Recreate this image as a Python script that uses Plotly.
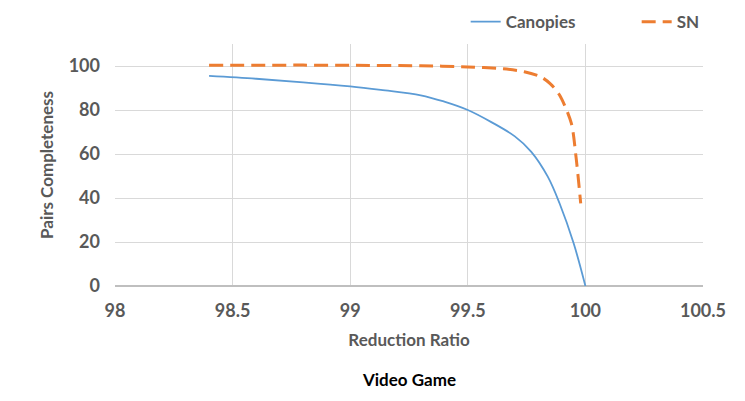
import plotly.graph_objects as go

# reduction ratio (%) vs pairs completeness (%)
canopies_rr = [98.4, 98.6, 98.8, 99.0, 99.13, 99.3, 99.4, 99.5, 99.6, 99.7, 99.77, 99.84, 99.89, 99.95, 100.0]
canopies_pc = [95.5, 94.2, 92.6, 90.7, 89.1, 86.7, 83.8, 80.0, 74.5, 68.0, 61.0, 49.7, 37.6, 19.4, 0.0]

sn_rr = [98.4, 98.8, 99.0, 99.3, 99.5, 99.65, 99.74, 99.81, 99.85, 99.89, 99.94, 99.96, 99.98]
sn_pc = [100.3, 100.4, 100.3, 100.1, 99.6, 98.7, 97.4, 95.1, 92.0, 86.8, 74.0, 58.8, 37.6]

x_ticks = [98, 98.5, 99, 99.5, 100, 100.5]
y_ticks = [0, 20, 40, 60, 80, 100]

font_family = "Lato, 'Open Sans', sans-serif"
grey = '#595959'

fig = go.Figure()
fig.add_trace(go.Scatter(x=canopies_rr, y=canopies_pc, mode='lines', name='Canopies',
                         line=dict(color='#5B9BD5', width=1.8, shape='spline', smoothing=1.0)))
fig.add_trace(go.Scatter(x=sn_rr, y=sn_pc, mode='lines', name='SN',
                         line=dict(color='#ED7D31', width=3, dash='14px,7px', shape='spline', smoothing=0.8)))

# page body has an 8px margin, so the figure is a bit smaller and shifted
fig.update_layout(
    width=737, height=393,
    margin=dict(l=107, r=42, t=36, b=115, autoexpand=False),
    paper_bgcolor='white', plot_bgcolor='white',
    font=dict(family=font_family, color=grey, size=17),
    legend=dict(orientation='h', x=0.621, y=0.964, xref='container', yref='container',
                xanchor='left', yanchor='middle',
                font=dict(size=17, color=grey, weight='bold'), itemwidth=30,
                entrywidth=126, tracegroupgap=0, bgcolor='rgba(0,0,0,0)'),
    annotations=[dict(text='<b>Video Game</b>', x=0.5, y=-0.388, xref='paper', yref='paper',
                      xanchor='center', yanchor='middle',
                      showarrow=False, font=dict(size=17, color='black'))],
)

fig.update_xaxes(range=[98, 100.5], tickvals=x_ticks, ticktext=[str(t) for t in x_ticks],
                 showgrid=True, gridcolor='#D9D9D9', gridwidth=1, zeroline=False,
                 showline=False, ticks='', ticklabelstandoff=12,
                 tickfont=dict(size=18, color=grey, weight='bold'),
                 title=dict(text='<b>Reduction Ratio</b>', font=dict(size=17, color=grey), standoff=14))
fig.update_yaxes(range=[0, 110], tickvals=y_ticks, showgrid=True, gridcolor='#D9D9D9', gridwidth=1,
                 zeroline=True, zerolinecolor='#BFBFBF', zerolinewidth=1.5,
                 showline=False, ticks='', ticklabelstandoff=14,
                 tickfont=dict(size=18, color=grey, weight='bold'),
                 title=dict(text='<b>Pairs Completeness</b>', font=dict(size=17, color=grey), standoff=10))

fig.write_html("out.html")
